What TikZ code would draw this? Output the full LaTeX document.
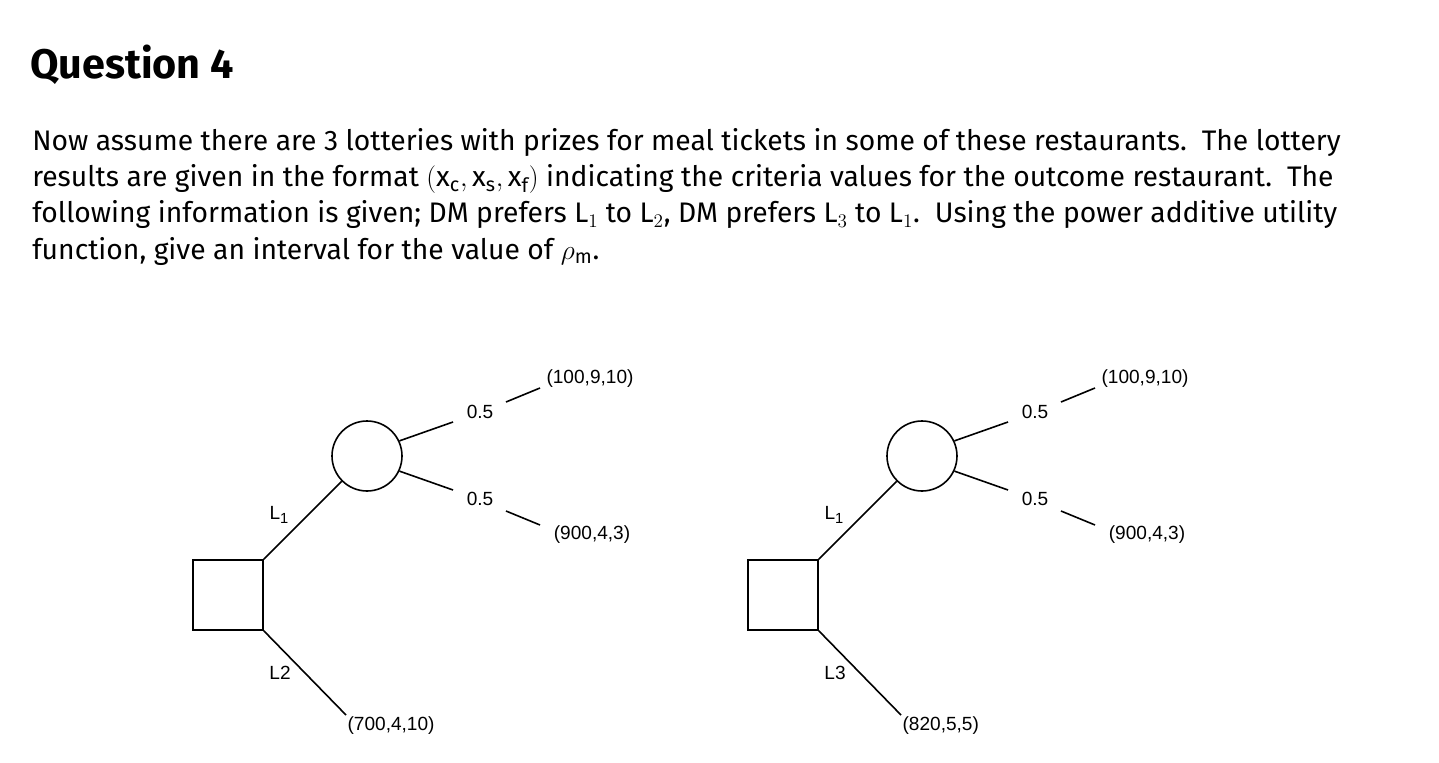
\documentclass[tikz,border=0pt]{standalone}
\usepackage{fontspec}
\setmainfont{Fira Sans}
\newfontfamily\arialf{Liberation Sans}
\begin{document}
\begin{tikzpicture}[x=0.75pt,y=-0.75pt,
  body/.style={anchor=base west,inner sep=0,font=\fontsize{21.2}{25}\selectfont},
  lab/.style={inner sep=1pt,font=\arialf\fontsize{14.3}{17}\selectfont},
  ln/.style={line width=1.2pt}]
\useasboundingbox (0,0) rectangle (1439,763);
\node[anchor=base west,inner sep=0,font=\fontsize{31}{35}\selectfont\bfseries] (title) at (30,79) {Question 4};
\node[body] (t1) at (32,151) {Now assume there are 3 lotteries with prizes for meal tickets in some of these restaurants.\ \ The lottery};
\node[body] (t2) at (32,187) {results are given in the format $(\mathrm{x}_{\mathrm{c}},\mathrm{x}_{\mathrm{s}},\mathrm{x}_{\mathrm{f}})$ indicating the criteria values for the outcome restaurant.\ \ The};
\node[body] (t3) at (32,223) {following information is given; DM prefers $\mathrm{L}_1$ to $\mathrm{L}_2$, DM prefers $\mathrm{L}_3$ to $\mathrm{L}_1$.\ \ Using the power additive utility};
\node[body] (t4) at (32,259) {function, give an interval for the value of $\rho_{\mathrm{m}}$.};
\foreach \o/\lt/\lo in {0/2/{(700,4,10)},555/3/{(820,5,5)}}{
  \begin{scope}[xshift=\o*0.75pt]
  \node[draw,ln,minimum size=70*0.75pt,inner sep=0] (sq) at (228,595) {};
  \node[draw,ln,circle,minimum size=70*0.75pt,inner sep=0] (ch) at (367,456) {};
  \draw[ln] (sq.north east) -- (ch.225);
  \node[lab] (p1) at (480,412) {0.5};
  \node[lab] (p2) at (480,499) {0.5};
  \node[lab] (o1) at (590,379) {(100,9,10)};
  \node[lab] (o2) at (592,535) {(900,4,3)};
  \coordinate (a1) at (506,402); \coordinate (b1) at (540,388);
  \coordinate (a2) at (506,511); \coordinate (b2) at (540,525);
  \draw[ln] (ch.25) -- (453,422);
  \draw[ln] (ch.-25) -- (453,490);
  \draw[ln] (a1) -- (b1);
  \draw[ln] (a2) -- (b2);
  \node[lab] (l1) at (279,515) {L\raisebox{-0.35ex}{\fontsize{11}{12}\selectfont 1}};
  \node[lab] (l2) at (280,673) {L\lt};
  \node[lab,anchor=north west] (o3) at (346,715) {\lo};
  \draw[ln] (sq.south east) -- (o3.north west);
  \end{scope}}
\end{tikzpicture}
\end{document}
